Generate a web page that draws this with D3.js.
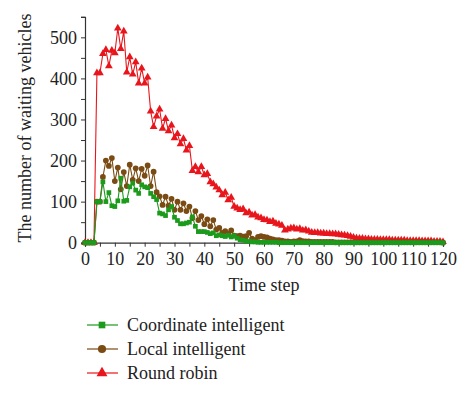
<!DOCTYPE html>
<meta charset="utf-8">
<script src="https://d3js.org/d3.v7.min.js"></script>
<style>
  body { margin: 0; background: #fff; }
  text { font-family: "Liberation Serif", "DejaVu Serif", serif; }
</style>
<div id="my_dataviz"></div>
<script>
  // time steps 0..120
  var timeSteps = d3.range(0, 121);

  // Coordinate intelligent (green squares)
  var coordinateIntelligent = [
    0, 0, 0, 0, 100, 100, 148, 100, 122, 90,
    88, 102, 157, 101, 103, 136, 145, 128, 120, 141,
    136, 134, 120, 112, 105, 72, 70, 66, 80, 88,
    62, 54, 46, 46, 48, 50, 63, 40, 27, 27,
    27, 25, 22, 24, 17, 19, 17, 15, 18, 14,
    17, 11, 7, 6, 4, 3, 2, 2, 1, 1,
    1, 1, 1, 1, 1, 0, 0, 0, 0, 0,
    0, 0, 0, 0, 0, 0, 0, 0, 0, 0,
    0, 0, 0, 0, 0, 0, 0, 0, 0, 0,
    0, 0, 0, 0, 0, 0, 0, 0, 0, 0,
    0, 0, 0, 0, 0, 0, 0, 0, 0, 0,
    0, 0, 0, 0, 0, 0, 0, 0, 0, 0,
    0
  ];

  // Local intelligent (brown circles)
  var localIntelligent = [
    0, 0, 0, 0, 100, 100, 160, 200, 187, 206,
    150, 183, 130, 172, 138, 190, 153, 181, 150, 180,
    163, 188, 138, 173, 123, 113, 92, 112, 90, 107,
    80, 100, 80, 96, 77, 88, 60, 77, 55, 65,
    45, 57, 40, 55, 32, 36, 24, 28, 22, 30,
    17, 16, 17, 15, 16, 24, 10, 6, 14, 16,
    14, 13, 10, 8, 6, 6, 5, 3, 3, 2,
    3, 3, 6, 4, 3, 3, 2, 2, 2, 2,
    2, 2, 2, 2, 1, 1, 1, 1, 1, 1,
    1, 1, 1, 1, 1, 1, 1, 1, 1, 1,
    1, 1, 1, 1, 1, 1, 1, 1, 1, 1,
    1, 1, 1, 1, 1, 1, 1, 1, 1, 1,
    0
  ];

  // Round robin (red triangles)
  var roundRobin = [
    0, 0, 0, 0, 413, 413, 460, 470, 430, 468,
    462, 522, 472, 515, 415, 452, 410, 440, 388, 425,
    388, 403, 320, 282, 308, 325, 278, 302, 272, 286,
    255, 265, 240, 253, 225, 236, 175, 185, 172, 185,
    165, 168, 148, 143, 135, 128, 116, 122, 104, 110,
    88, 84, 80, 82, 72, 74, 67, 68, 62, 60,
    56, 55, 51, 52, 47, 45, 42, 30, 33, 35,
    36, 33, 34, 30, 31, 28, 25, 24, 24, 23,
    23, 22, 22, 21, 21, 20, 19, 18, 17, 15,
    13, 11, 10, 10, 9, 9, 8, 8, 8, 7,
    7, 7, 7, 6, 6, 6, 6, 6, 5, 5,
    5, 5, 5, 4, 4, 4, 4, 3, 3, 3,
    2
  ];

  var xTicks = d3.range(0, 121, 10);
  var yTicks = [0, 100, 200, 300, 400, 500];

  var series = [
    { name: "Coordinate intelligent", values: coordinateIntelligent, color: "#1c9a1c", shape: d3.symbolSquare, size: 22 },
    { name: "Local intelligent", values: localIntelligent, color: "#7a4b12", shape: d3.symbolCircle, size: 26 },
    { name: "Round robin", values: roundRobin, color: "#e8161c", shape: d3.symbolTriangle, size: 26 }
  ];

  var svg = d3.select("#my_dataviz")
    .append("svg")
      .attr("width", 474)
      .attr("height", 401);

  var x = d3.scaleLinear().domain([0, 120]).range([85, 443]);
  var y = d3.scaleLinear().domain([0, 550]).range([242.7, 16.8]);

  // axes
  var xAxis = svg.append("g")
    .attr("transform", "translate(0," + y(0) + ")")
    .call(d3.axisBottom(x).tickValues(d3.range(0, 121, 5)).tickSize(4)
      .tickFormat(function(d) { return xTicks.indexOf(d) >= 0 ? d : ""; }));
  xAxis.selectAll("text").attr("dy", "0.85em").style("font-size", "18px").attr("fill", "#222");

  var yAxis = svg.append("g")
    .attr("transform", "translate(" + x(0) + ",0)")
    .call(d3.axisLeft(y).tickValues(d3.range(0, 551, 50)).tickSize(4)
      .tickFormat(function(d) { return yTicks.indexOf(d) >= 0 ? d : ""; }));
  yAxis.selectAll("text").attr("x", -8).style("font-size", "18px").attr("fill", "#222");

  svg.selectAll(".domain").attr("stroke", "#333").attr("stroke-width", 1.2);
  svg.selectAll(".tick line").attr("stroke", "#333");

  // axis titles
  svg.append("text")
    .attr("x", 264).attr("y", 291)
    .attr("text-anchor", "middle")
    .style("font-size", "18px").attr("fill", "#222")
    .text("Time step");

  svg.append("text")
    .attr("transform", "translate(31," + 128 + ")rotate(-90)")
    .attr("text-anchor", "middle")
    .style("font-size", "18px").attr("fill", "#222")
    .text("The number of waiting vehicles");

  // lines + markers, red drawn first so green sits on top
  var line = d3.line()
    .x(function(d, i) { return x(timeSteps[i]); })
    .y(function(d) { return y(d); });

  series.slice().reverse().forEach(function(s) {
    svg.append("path")
      .datum(s.values)
      .attr("fill", "none")
      .attr("stroke", s.color)
      .attr("stroke-width", 1.1)
      .attr("d", line);

    svg.selectAll(null)
      .data(s.values)
      .enter()
      .append("path")
        .attr("d", d3.symbol().type(s.shape).size(s.size))
        .attr("transform", function(d, i) { return "translate(" + x(timeSteps[i]) + "," + y(d) + ")"; })
        .attr("fill", s.color);
  });

  // legend
  var legend = svg.append("g");
  series.forEach(function(s, i) {
    var ly = 325 + i * 24;
    legend.append("line")
      .attr("x1", 87).attr("x2", 118)
      .attr("y1", ly).attr("y2", ly)
      .attr("stroke", s.color).attr("stroke-width", 1.2);
    legend.append("path")
      .attr("d", d3.symbol().type(s.shape).size(s.size * 2))
      .attr("transform", "translate(102," + ly + ")")
      .attr("fill", s.color);
    legend.append("text")
      .attr("x", 127).attr("y", ly + 6)
      .style("font-size", "18px").attr("fill", "#222")
      .text(s.name);
  });
</script>
